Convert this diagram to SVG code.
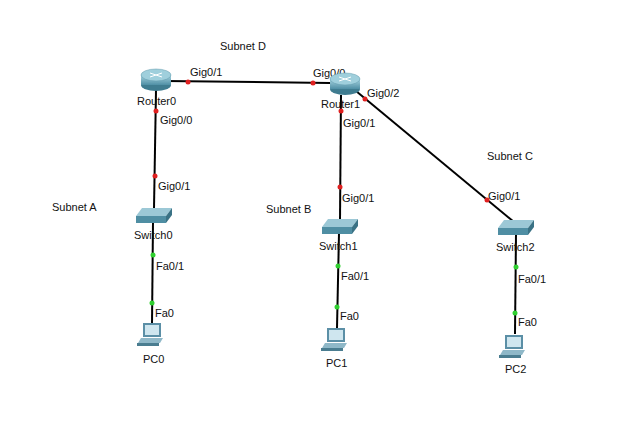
<svg xmlns="http://www.w3.org/2000/svg" width="622" height="441" viewBox="0 0 622 441">
<style>
text{font-family:"Liberation Sans",Arial,sans-serif;font-size:11px;fill:#111}
.l{stroke:#000;stroke-width:2;fill:none}
.r{fill:#e02020}.g{fill:#30d030}
</style>
<defs>
<linearGradient id="rg" x1="0" y1="0" x2="0" y2="1"><stop offset="0" stop-color="#a8d4e0"/><stop offset="1" stop-color="#4f8fa5"/></linearGradient>
<g id="router"><ellipse cx="0" cy="5" rx="15" ry="6" fill="#3f7c90"/><rect x="-15" y="-5" width="30" height="10" fill="url(#rg)"/><ellipse cx="0" cy="-5" rx="15" ry="6" fill="#9fcfdc" stroke="#5e98aa" stroke-width="0.5"/><path d="M-6-7l12 4M6-7l-12 4" stroke="#fff" stroke-width="1"/></g>
<g id="switch"><path d="M-12-8h30l-6 8h-30z" fill="#9cc8d6"/><path d="M-18 0h30v7h-30z" fill="#4f8ea3"/><path d="M12 0l6-8v7l-6 8z" fill="#3a7285"/></g>
<g id="pc"><rect x="-8" y="-14" width="18" height="14" fill="#5b8fa6"/><rect x="-6" y="-12" width="14" height="10" fill="#cfe6ef"/><path d="M-10 1h22l-3 5h-22z" fill="#8fb8c8"/><path d="M-14 6h22v3h-22z" fill="#4a7d90"/></g>
</defs>
<g id="connectors">
<path class="l" d="M165 81L330 83"/>
<path class="l" d="M156 90L154 208"/>
<path class="l" d="M341 95L340 220"/>
<path class="l" d="M356 91L514 222"/>
<path class="l" d="M153 222L152 324"/>
<path class="l" d="M339 233L337 328"/>
<path class="l" d="M516 234L515 334"/>
<circle class="r" cx="188" cy="82" r="2.5"/><circle class="r" cx="313" cy="83" r="2.5"/>
<circle class="r" cx="156" cy="111" r="2.5"/><circle class="r" cx="155" cy="176" r="2.5"/>
<circle class="r" cx="341" cy="111" r="2.5"/><circle class="r" cx="340" cy="187" r="2.5"/>
<circle class="r" cx="365" cy="99" r="2.5"/><circle class="r" cx="487" cy="200" r="2.5"/>
<circle class="g" cx="153" cy="255" r="2.5"/><circle class="g" cx="152" cy="303" r="2.5"/>
<circle class="g" cx="338" cy="266" r="2.5"/><circle class="g" cx="337" cy="307" r="2.5"/>
<circle class="g" cx="516" cy="267" r="2.5"/><circle class="g" cx="515" cy="313" r="2.5"/>
<text x="190" y="76">Gig0/1</text><text x="313" y="77">Gig0/0</text><text x="367" y="97">Gig0/2</text>
<text x="160" y="124">Gig0/0</text><text x="158" y="190">Gig0/1</text>
<text x="343" y="127">Gig0/1</text><text x="342" y="202">Gig0/1</text>
<text x="488" y="200">Gig0/1</text>
<text x="156" y="270">Fa0/1</text><text x="155" y="317">Fa0</text>
<text x="341" y="280">Fa0/1</text><text x="340" y="320">Fa0</text>
<text x="518" y="283">Fa0/1</text><text x="518" y="326">Fa0</text>
</g>
<text x="220" y="50">Subnet D</text><text x="52" y="211">Subnet A</text><text x="266" y="213">Subnet B</text><text x="487" y="160">Subnet C</text>
<g id="Router0"><use href="#router" x="156" y="80"/><text x="137" y="105">Router0</text></g>
<g id="Router1"><use href="#router" x="345" y="84"/><text x="321" y="108">Router1</text></g>
<g id="Switch0"><use href="#switch" x="154" y="216"/><text x="134" y="239">Switch0</text></g>
<g id="Switch1"><use href="#switch" x="340" y="227"/><text x="319" y="250">Switch1</text></g>
<g id="Switch2"><use href="#switch" x="516" y="228"/><text x="496" y="251">Switch2</text></g>
<g id="PC0"><use href="#pc" x="151" y="337"/><text x="143" y="363">PC0</text></g>
<g id="PC1"><use href="#pc" x="335" y="342"/><text x="326" y="367">PC1</text></g>
<g id="PC2"><use href="#pc" x="513" y="349"/><text x="505" y="373">PC2</text></g>
</svg>
